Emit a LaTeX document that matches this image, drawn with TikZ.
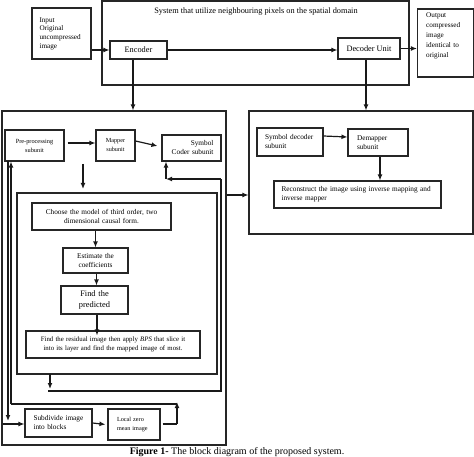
\documentclass[tikz,border=0pt]{standalone}
\usepackage{fontspec}
\setmainfont{Liberation Serif}
\usetikzlibrary{arrows.meta,calc}
\newcommand\fz[2]{\fontsize{#1}{#2}\selectfont}
\begin{document}
\begin{tikzpicture}[x=1pt,y=-1pt,
  box/.style={draw=black!85, line width=1.1pt, inner sep=0pt, font=\fz{7.3}{9}},
  arr/.style={-{Latex[length=6pt,width=5pt]}, line width=1.2pt, draw=black!90},
  ln/.style={line width=1.2pt, draw=black!90}]
\useasboundingbox (0,0) rectangle (474,457);
% top system
\node[box, minimum width=307pt, minimum height=84pt] (sys) at (255.5,43) {};
\node[font=\fz{8.3}{10}, inner sep=0pt] (title) at (256,12) {System that utilize neighbouring pixels on the spatial domain};
\node[box, minimum width=59pt, minimum height=51pt, text width=44pt, align=left, font=\fz{7.2}{8.7}] (inp) at (61.5,33.5) {Input\\Original\\uncompressed\\image};
\node[box, minimum width=57pt, minimum height=18pt, font=\fz{8.3}{10}] (enc) at (138.5,50) {Encoder};
\node[box, minimum width=62pt, minimum height=21pt, font=\fz{8.3}{10}] (dec) at (369,48.5) {Decoder Unit};
\node[box, minimum width=56pt, minimum height=68pt] (out) at (445.5,43) {};
\node[anchor=north west, inner sep=0pt, text width=40pt, align=left, font=\fz{7.2}{10}] (outtxt) at (426,13) {Output\\compressed\\image\\identical to\\original};
\draw[arr] (enc.west -| inp.east) -- (enc.west);
\draw[arr] (enc.east) -- (enc.east -| dec.west);
\draw[arr] (dec.east) -- (dec.east -| out.west);
% left big box
\node[box, minimum width=224pt, minimum height=334pt] (left) at (114,278) {};
\draw[arr] ([xshift=-5.5pt]enc.south) -- ([xshift=-5.5pt]enc.south |- left.north);
\node[box, minimum width=59pt, minimum height=31pt, text width=50pt, align=center, font=\fz{6.3}{9}] (pre) at (34.5,145.5) {Pre-processing\\subunit};
\node[box, minimum width=39pt, minimum height=31pt, text width=34pt, align=center, font=\fz{6.2}{9}] (map) at (115.5,145.5) {Mapper\\subunit};
\node[box, minimum width=59pt, minimum height=26pt, text width=44pt, align=right] (sym) at (191.5,148) {Symbol\\Coder subunit};
\draw[arr] ([xshift=3pt,yshift=2.5pt]pre.east) -- ([yshift=2.5pt]map.west);
\draw[arr] ([yshift=4.5pt]map.east) -- ([xshift=-4pt,yshift=2pt]sym.west);
\node[box, minimum width=200pt, minimum height=181pt] (inner) at (117,283.5) {};
\coordinate (mdtop) at (83,164);
\draw[arr] (mdtop) -- (mdtop |- 0,189);
\node[box, minimum width=139pt, minimum height=27pt, text width=130pt, align=center] (choose) at (101.5,216.5) {Choose the model of third order, two\\dimensional causal form.};
\node[box, minimum width=65pt, minimum height=25pt, text width=60pt, align=center] (est) at (95.5,260.5) {Estimate the\\coefficients};
\node[box, minimum width=67pt, minimum height=28pt, text width=60pt, align=center, font=\fz{8.4}{10.5}] (pred) at (94.5,300) {Find the\\predicted};
\node[box, minimum width=174pt, minimum height=27pt, text width=170pt, align=center, font=\fz{6.8}{9.5}] (resid) at (113,344.5) {Find the residual image then apply \textit{BPS} that slice it\\into its layer and find the mapped image of most.};
\draw[arr] (choose.south -| est.north) -- (est.north);
\draw[arr] ([xshift=1pt]est.south) -- ([xshift=1pt]est.south |- pred.north);
\draw[arr] ([xshift=2.5pt]pred.south) -- ([xshift=2.5pt,yshift=-5pt]pred.south |- resid.north);
% loop to symbol coder
\coordinate (idn) at (50,374);
\draw[arr] (idn) -- (50,389);
\coordinate (lpA) at (48,391);
\coordinate (lpB) at (221,391);
\coordinate (lpC) at (221,179);
\coordinate (lpD) at (166,179);
\draw[ln] (lpA) -- (lpB) -- (lpC);
\draw[arr] (lpC) -- (lpD);
\draw[arr] (lpD) -- (lpD |- sym.south);
% bottom
\node[box, minimum width=67pt, minimum height=28pt, text width=50pt, align=left] (subd) at (58.5,423) {Subdivide image\\into blocks};
\node[box, minimum width=52pt, minimum height=31pt, text width=34pt, align=left, font=\fz{6.2}{8.3}] (local) at (134,424.5) {Local zero\\mean image};
\draw[arr] (subd.east) -- ([xshift=-2pt]local.west);
\coordinate (lzR) at (177,424);
\coordinate (lzT) at (177,402);
\draw[ln] ([xshift=2pt]local.east |- lzR) -- (lzR);
\draw[arr] (lzR) -- (lzT);
\coordinate (upB) at (11,404);
\draw[ln] (lzT |- upB) -- (upB);
\draw[arr] (upB) -- (upB |- pre.south);
\coordinate (dnT) at (8,161);
\draw[arr] (dnT) -- (8,421);
\coordinate (inL) at (3,424);
\draw[arr] (inL) -- (inL -| subd.west);
% right box
\node[box, minimum width=224pt, minimum height=123pt] (right) at (361,172.5) {};
\draw[arr] ([xshift=-3pt]dec.south) -- ([xshift=-3pt]dec.south |- right.north);
\draw[arr] (left.east |- 0,195) -- (right.west |- 0,195);
\node[box, minimum width=66pt, minimum height=28pt, text width=50pt, align=left] (sdec) at (290,142) {Symbol decoder\\subunit};
\node[box, minimum width=60pt, minimum height=27pt, text width=42pt, align=left] (demap) at (378,142.5) {Demapper\\subunit};
\node[box, minimum width=167pt, minimum height=27pt, text width=152pt, align=left] (recon) at (357.5,194.5) {Reconstruct the image using inverse mapping and\\inverse mapper};
\draw[arr] ([yshift=6pt]sdec.east) -- ([yshift=5.5pt]demap.west);
\draw[arr] ([xshift=2pt]demap.south) -- ([xshift=2pt]demap.south |- recon.north);
% caption
\node[font=\fz{10}{12}, inner sep=0pt] (cap) at (237,452) {\textbf{Figure 1-} The block diagram of the proposed system.};
\end{tikzpicture}
\end{document}
